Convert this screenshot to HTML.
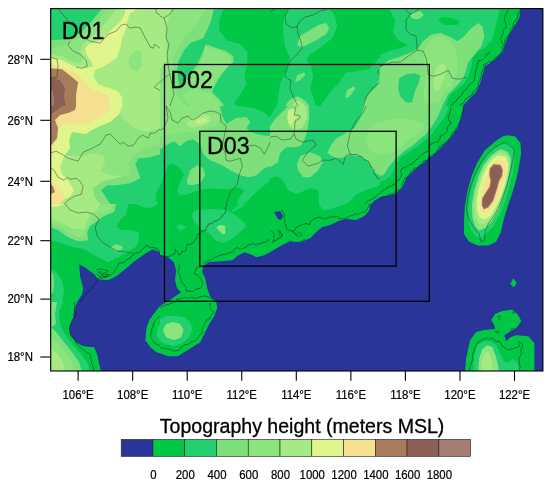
<!DOCTYPE html>
<html><head><meta charset="utf-8"><title>Topography height</title>
<style>
html,body{margin:0;padding:0;background:#fff;}
body{width:550px;height:488px;overflow:hidden;position:relative;font-family:"Liberation Sans",Arial,Helvetica,sans-serif;}
svg{position:absolute;left:0;top:0;display:block}
text{font-family:"Liberation Sans",Arial,Helvetica,sans-serif;fill:#000;stroke:#000;stroke-width:0.3px}
.tk{font-size:11.4px;stroke-width:0.2px}
.dl{font-size:23.25px}
.bl{font-size:11.4px;stroke-width:0.2px}
</style></head><body>
<svg width="550" height="488" viewBox="0 0 550 488">
<defs><clipPath id="mapclip"><rect x="50.5" y="8.5" width="492.5" height="362.5"/></clipPath></defs>
<rect x="0" y="0" width="550" height="488" fill="#fff"/>
<g clip-path="url(#mapclip)">
<rect x="50" y="8" width="494" height="364" fill="#00c846"/>

<clipPath id="c0"><rect x="50" y="8" width="110" height="98"/></clipPath>
<g clip-path="url(#c0)">
<rect x="50" y="8" width="110" height="98" fill="#a5ea82"/>
<g transform="translate(50,8) scale(0.20082)">
<polygon fill="#8ce47e" points="395,245 425,212 455,218 458,285 432,318 402,300 390,270"/>
<polygon fill="#8ce47e" points="0,0 335,0 300,45 262,92 215,140 160,185 150,215 165,250 150,275 110,268 60,240 0,228"/>
<polygon fill="#7de07a" points="0,0 294,0 269,31 237,69 187,125 125,162 62,187 0,206"/>
<polygon fill="#22d070" points="0,0 262,0 231,37 206,69 156,119 106,147 56,158 0,160"/>
<polygon fill="#e0f58c" points="378,0 440,0 395,30 385,70 380,100 360,150 350,200 330,250 270,290 225,310 215,340 240,380 340,415 362,450 360,488 0,488 0,245 60,260 120,290 180,300 215,290 205,265 180,230 175,200 195,180 250,160 290,125 320,95 350,70 372,30 378,0"/>
<polygon fill="#f5e090" points="0,280 80,300 140,330 200,400 290,440 305,488 0,488"/>
<polygon fill="#a57d5a" points="0,300 60,305 105,340 140,370 130,430 130,488 0,488"/>
<polygon fill="#8c5f55" points="0,345 50,360 75,400 70,440 78,488 0,488"/>
<polygon fill="#a57d73" points="0,400 15,420 20,470 15,488 0,488"/>
<polyline fill="none" stroke="#26301a" stroke-width="2.78857" stroke-opacity="0.8" stroke-linejoin="round" points="40,0 70,40 120,95 160,140 200,165 250,175 290,130 330,115 355,85 380,80 395,100 430,95 450,100 475,150 500,195 515,200 520,180 548,200"/>
<polyline fill="none" stroke="#26301a" stroke-width="2.78857" stroke-opacity="0.8" stroke-linejoin="round" points="100,165 90,185 115,215 150,230 180,260 185,290 160,300 130,295"/>
<polyline fill="none" stroke="#26301a" stroke-width="2.78857" stroke-opacity="0.8" stroke-linejoin="round" points="0,245 35,255 40,290 35,345 0,350"/>
<polyline fill="none" stroke="#26301a" stroke-width="2.78857" stroke-opacity="0.8" stroke-linejoin="round" points="525,0 530,25 548,35"/>
<polyline fill="none" stroke="#26301a" stroke-width="2.78857" stroke-opacity="0.8" stroke-linejoin="round" points="548,365 520,395 548,410"/>
</g></g>
<clipPath id="c1"><rect x="160" y="8" width="110" height="98"/></clipPath>
<g clip-path="url(#c1)">
<rect x="160" y="8" width="110" height="98" fill="#8ce47e"/>
<g transform="translate(160,8) scale(0.20082)">
<polygon fill="#a5ea82" points="0,0 60,0 40,60 30,150 35,260 0,300"/>
<polygon fill="#7de07a" points="230,0 190,70 120,150 70,240 60,330 80,430 130,488 548,488 548,0"/>
<polygon fill="#8ce47e" points="225,190 330,225 355,250 350,275 300,330 255,395 200,400 150,370 190,300 215,245"/>
<polygon fill="#8ce47e" points="150,488 110,430 170,400 250,425 290,465 300,488"/>
<polygon fill="#22d070" points="270,0 255,60 230,120 215,150 150,175 120,210 90,270 85,320 100,410 125,355 180,290 205,240 228,180 330,215 365,240 365,270 340,290 300,340 265,400 260,420 300,460 320,488 548,488 548,0"/>
<polygon fill="#00c846" points="318,0 295,60 295,110 330,160 400,180 435,220 435,280 420,330 430,380 400,430 370,470 380,488 548,488 548,0"/>
<polyline fill="none" stroke="#26301a" stroke-width="2.78857" stroke-opacity="0.8" stroke-linejoin="round" points="70,0 50,30 20,50 35,100 30,150 45,180 35,230 40,280 48,330 20,350 0,370"/>
<polyline fill="none" stroke="#26301a" stroke-width="2.78857" stroke-opacity="0.8" stroke-linejoin="round" points="0,40 20,50"/>
<polyline fill="none" stroke="#26301a" stroke-width="2.78857" stroke-opacity="0.8" stroke-linejoin="round" points="48,330 60,380 70,430 50,488"/>
</g></g>
<clipPath id="c2"><rect x="270" y="8" width="110" height="98"/></clipPath>
<g clip-path="url(#c2)">
<rect x="270" y="8" width="110" height="98" fill="#00c846"/>
<g transform="translate(270,8) scale(0.20082)">
<polygon fill="#22d070" points="90,0 70,50 65,110 75,190 100,250 80,310 50,380 35,488 230,488 200,400 215,340 205,290 180,260 200,230 260,190 310,150 335,90 320,30 290,0"/>
<polygon fill="#7de07a" points="135,180 150,140 200,110 240,85 280,75 295,100 280,130 230,160 180,185 150,195"/>
<polygon fill="#7de07a" points="125,370 135,335 170,320 175,335 150,360"/>
<polygon fill="#7de07a" points="75,488 100,455 140,440 180,465 195,488"/>
<polygon fill="#a5ea82" points="110,488 125,465 145,460 165,475 172,488"/>
<polygon fill="#22d070" points="250,488 300,420 349,366 377,322 428,315 493,304 519,279 548,243 548,488"/>
<polygon fill="#7de07a" points="375,440 385,410 415,390 425,400 405,430 385,450"/>
<polygon fill="#7de07a" points="460,488 472,463 493,427 530,391 546,350 544,304 548,296 548,488"/>
<polyline fill="none" stroke="#26301a" stroke-width="2.78857" stroke-opacity="0.8" stroke-linejoin="round" points="95,0 75,40 80,80 110,100 135,90 140,130 155,170 160,200 130,235 100,265 85,300 75,340 90,355 105,360 100,400 115,440 130,470 140,488"/>
<polyline fill="none" stroke="#26301a" stroke-width="2.78857" stroke-opacity="0.8" stroke-linejoin="round" points="135,90 150,65 175,45 215,35 250,15 275,10 290,0"/>
<polyline fill="none" stroke="#26301a" stroke-width="2.78857" stroke-opacity="0.8" stroke-linejoin="round" points="0,20 30,0"/>
<polyline fill="none" stroke="#26301a" stroke-width="2.78857" stroke-opacity="0.8" stroke-linejoin="round" points="548,305 535,320 548,330"/>
<polyline fill="none" stroke="#26301a" stroke-width="2.78857" stroke-opacity="0.8" stroke-linejoin="round" points="548,370 510,400 480,440 465,488"/>
</g></g>
<clipPath id="c3"><rect x="380" y="8" width="110" height="98"/></clipPath>
<g clip-path="url(#c3)">
<rect x="380" y="8" width="110" height="98" fill="#22d070"/>
<g transform="translate(380,8) scale(0.20082)">
<polygon fill="#00c846" points="0,0 45,0 75,60 65,120 90,160 140,185 100,200 40,215 0,235"/>
<polygon fill="#00c846" points="290,65 305,45 360,50 400,70 385,85 320,85"/>
<polygon fill="#7de07a" points="0,300 18,282 40,261 90,246 148,224 190,203 210,170 250,135 300,125 350,145 385,165 420,140 450,105 490,75 510,95 520,140 505,190 470,230 440,270 425,320 415,350 380,390 340,430 310,488 0,488"/>
<polygon fill="#7de07a" points="150,40 165,20 200,15 218,35 195,55 165,55"/>
<polygon fill="#8ce47e" points="225,475 215,420 235,330 215,250 225,190 260,150 300,140 345,160 375,200 385,260 385,320 360,380 320,420 290,470"/>
<polygon fill="#a5ea82" points="270,330 285,290 310,275 330,290 325,330 300,400 280,420 265,380"/>
<polygon fill="#22d070" points="95,350 130,330 170,325 200,335 195,370 175,410 160,470 130,470 100,440 90,400"/>
<polygon fill="#00c846" points="548,165 528,196 491,217 462,246 455,290 441,341 418,376 382,406 346,435 332,478 325,488 548,488"/>
<polygon fill="#293599" points="548,275 523,289 513,326 498,376 477,420 441,456 411,488 548,488"/>
<polyline fill="none" stroke="#26301a" stroke-width="2.78857" stroke-opacity="0.8" stroke-linejoin="round" points="120,0 150,30 130,60 130,110 150,130 180,140 185,210 140,240 100,270 60,270 30,280 0,290"/>
<polyline fill="none" stroke="#26301a" stroke-width="2.78857" stroke-opacity="0.8" stroke-linejoin="round" points="185,210 215,215 230,250 240,330 265,340 300,330 340,310 360,350 395,355 430,345"/>
<polyline fill="none" stroke="#26301a" stroke-width="2.78857" stroke-opacity="0.8" stroke-linejoin="round" points="150,30 175,20 200,0"/>
<polyline fill="none" stroke="#0a0f0a" stroke-width="2.6" stroke-opacity="0.85" stroke-linejoin="round" points="548,262 539.6,269.5 531.2,276.9 520,280 515.6,288.7 518.1,299.7 510.7,307.5 509.3,317.2 505,326 506.2,337.3 498.9,346 500.4,357.3 493.6,366.2 490,376 488.8,387.7 483.6,397.4 475.7,405.6 470,415 460.7,419.7 458.7,431.7 451,438 441.1,442.1 435,450 424.7,454.6 420.4,464.7 414.8,473.5 403.5,477.2 400,488"/>
<polyline fill="none" stroke="#0a0f0a" stroke-width="2.6" stroke-opacity="0.85" stroke-linejoin="round" points="548,215 544.5,226.6 531.2,230.3 528.6,242.6 520,250 511.3,257.3 501.4,261.5 490,262 489.4,272 481.9,280.2 485.6,291.3 480,300 477.2,309.8 474.6,319.7 475.3,330.3 471.5,339.9 470,350 468.6,359.9 463.7,367.4 457.4,374.1 450,380 441.2,386.2 435.5,395.5 428.8,403.8 420,410 414.3,417 410.4,425.3 406.7,433.6 400,440 390.4,445.4 383.6,453.6 379.3,464.3 370,470 359.5,478.4 350,488"/>
</g></g>
<clipPath id="c4"><rect x="490" y="8" width="54" height="98"/></clipPath>
<g clip-path="url(#c4)">
<rect x="490" y="8" width="54" height="98" fill="#293599"/>
<g transform="translate(440,8) scale(0.20082)">
<polygon fill="#00c846" points="0,0 400,0 395,50 370,90 340,140 320,190 310,220 270,260 225,285 210,340 190,390 160,440 120,470 110,488 0,488"/>
<polygon fill="#22d070" points="0,0 300,0 285,60 270,120 255,170 225,210 190,240 170,280 150,330 120,380 80,420 45,450 30,488 0,488"/>
<polyline fill="none" stroke="#0a0f0a" stroke-width="2.6" stroke-opacity="0.85" stroke-linejoin="round" points="400,10 395.8,19.9 388.5,28.6 385.9,39.1 386,50.8 380,60 368.7,67.1 365,80 364.8,91.3 358.3,100.3 351.3,109.1 350,120 347.9,129.4 340.1,135.1 338.8,145.1 330,150 325.1,159.5 320.8,169.2 320,180 316.3,188.8 310.4,196.8 312.8,207.6 306.1,215.4 305,225 297.7,230.5 291.1,236.7 285.3,243.8 276,247.2 268.6,252.6 265,262 257.1,267.4 248.1,271 243.4,281.3 231.9,281.1 225,288 221.1,298.2 215.2,307.9 214.4,318.8 215,330 213,340.8 208.1,350.4 201.4,359.4 203.4,371.8 195,380 190.3,388.5 187.8,398.4 183.3,407 178.8,415.6 167.7,420.3 165,430 159.4,439.8 150.7,445.9 141.7,451.8 130.6,455.2 125,465 121.5,475.4 112.1,480.7 105,488"/>
<polyline fill="none" stroke="#0a0f0a" stroke-width="2.6" stroke-opacity="0.85" stroke-linejoin="round" points="340,10 335.5,19.8 328.4,28.6 325,38.8 320.6,48.6 320,60 325.4,69.3 327.5,79.7 330,90 327,99.2 318,105.4 313,113.7 316,125.8 311.5,134.3 306.7,142.6 300,150 305.9,159.2 306.8,170 310,180"/>
</g></g>
<clipPath id="c5"><rect x="50" y="106" width="110" height="98"/></clipPath>
<g clip-path="url(#c5)">
<rect x="50" y="106" width="110" height="98" fill="#8ce47e"/>
<g transform="translate(50,106) scale(0.20082)">
<polygon fill="#a5ea82" points="340,0 548,0 548,110 480,130 420,110 360,60"/>
<polygon fill="#a5ea82" points="150,280 190,240 240,235 270,260 265,300 225,325 180,320"/>
<polygon fill="#a5ea82" points="50,244 150,250 265,244 275,284 250,324 300,344 400,354 420,400 300,420 255,440 270,470 300,488 0,488 0,244"/>
<polygon fill="#7de07a" points="548,195 480,210 420,240 390,290 400,340 330,360 260,375 215,410 220,450 250,488 548,488"/>
<polygon fill="#22d070" points="548,240 500,255 440,262 425,290 440,330 450,360 400,385 330,395 285,395 255,420 275,450 300,488 548,488"/>
<polygon fill="#00c846" points="548,400 530,430 525,470 540,488 548,488"/>
<polygon fill="#e0f58c" points="0,0 360,0 345,40 300,80 250,100 200,125 180,140 110,130 95,170 100,210 70,250 50,300 60,340 90,370 120,420 100,450 60,470 40,488 0,488"/>
<polygon fill="#f5e090" points="300,0 290,30 250,55 190,85 130,95 70,90 35,120 40,150 20,200 10,240 0,250 0,0"/>
<polygon fill="#f5e090" points="0,380 30,390 60,430 75,460 50,488 0,488"/>
<polygon fill="#a57d5a" points="0,0 130,0 125,20 90,35 50,45 25,70 40,110 35,160 10,190 0,200"/>
<polygon fill="#a57d5a" points="0,390 15,400 25,430 0,440"/>
<polygon fill="#8c5f55" points="0,0 60,0 30,25 0,40"/>
<polyline fill="none" stroke="#26301a" stroke-width="2.78857" stroke-opacity="0.8" stroke-linejoin="round" points="0,235 30,225 60,240 90,260 140,275 165,230 200,215 250,190 280,145 300,140 330,170 350,190 365,180 390,200 415,195 440,160 460,145 490,160 500,135 520,135 548,115"/>
<polyline fill="none" stroke="#26301a" stroke-width="2.78857" stroke-opacity="0.8" stroke-linejoin="round" points="0,305 20,320 40,355 70,370 85,355 100,365 130,360 150,375 165,400 155,440 120,450 90,470 70,488"/>
</g></g>
<clipPath id="c6"><rect x="160" y="106" width="110" height="98"/></clipPath>
<g clip-path="url(#c6)">
<rect x="160" y="106" width="110" height="98" fill="#22d070"/>
<g transform="translate(160,106) scale(0.20082)">
<polygon fill="#00c846" points="0,400 25,330 40,295 65,285 100,310 120,340 100,380 85,420 100,445 140,440 190,420 260,410 330,415 390,405 420,420 400,450 380,488 0,488"/>
<polygon fill="#00c846" points="400,0 474,11 524,36 544,56 548,52 548,0"/>
<polygon fill="#00c846" points="410,488 434,474 494,414 534,384 548,374 548,488"/>
<polygon fill="#7de07a" points="0,0 300,0 310,50 330,90 380,60 430,55 450,80 430,110 450,130 500,145 548,150 548,300 520,310 480,345 440,355 400,345 350,320 310,295 250,270 215,240 200,190 165,165 130,175 100,200 70,175 30,195 0,215"/>
<polygon fill="#8ce47e" points="0,0 290,0 300,60 280,100 230,110 180,130 120,130 60,140 0,150"/>
<polygon fill="#a5ea82" points="130,90 160,60 210,40 250,50 250,80 210,100 160,110"/>
<polygon fill="#c3f088" points="170,82 200,62 235,60 235,78 200,92"/>
<polygon fill="#7de07a" points="135,370 150,320 185,295 215,310 225,345 200,385 160,395 135,390"/>
<polyline fill="none" stroke="#26301a" stroke-width="2.78857" stroke-opacity="0.8" stroke-linejoin="round" points="30,0 50,30 60,70 90,85 110,60 140,50 160,70 190,55 215,35 250,25 280,30 300,40 305,80 330,100 320,150 310,200 325,235 330,270 350,275 400,260 410,300 395,340 385,390 350,430 335,470 330,488"/>
<polyline fill="none" stroke="#26301a" stroke-width="2.78857" stroke-opacity="0.8" stroke-linejoin="round" points="430,200 470,195 500,210 520,240 540,200 548,180"/>
<polyline fill="none" stroke="#26301a" stroke-width="2.78857" stroke-opacity="0.8" stroke-linejoin="round" points="0,120 20,110 40,60 30,0"/>
</g></g>
<clipPath id="c7"><rect x="270" y="106" width="110" height="98"/></clipPath>
<g clip-path="url(#c7)">
<rect x="270" y="106" width="110" height="98" fill="#22d070"/>
<g transform="translate(270,106) scale(0.20082)">
<polygon fill="#00c846" points="0,0 33,0 16,26 0,58"/>
<polygon fill="#00c846" points="0,360 40,350 70,380 90,420 130,440 200,410 240,420 245,488 0,488"/>
<polygon fill="#00c846" points="548,392 534,399 474,419 424,444 394,479 375,488 548,488"/>
<polygon fill="#293599" points="548,455 520,470 505,488 548,488"/>
<polygon fill="#7de07a" points="0,100 30,60 60,30 90,0 195,0 195,60 185,130 170,170 150,200 120,205 80,205 50,235 40,280 0,305"/>
<polygon fill="#7de07a" points="135,290 150,250 200,230 250,250 262,280 240,320 200,355 165,355 140,320"/>
<polygon fill="#7de07a" points="548,0 470,0 450,60 420,110 370,140 330,160 300,200 285,235 330,260 375,255 400,245 450,250 490,280 520,330 548,345"/>
<polygon fill="#a5ea82" points="85,60 110,20 130,0 180,0 185,60 160,110 120,120 95,100"/>
<polygon fill="#c3f088" points="88,25 105,12 125,20 125,70 105,95 88,80"/>
<polygon fill="#8ce47e" points="548,90 510,100 485,140 490,190 520,230 548,235"/>
<polyline fill="none" stroke="#26301a" stroke-width="2.78857" stroke-opacity="0.8" stroke-linejoin="round" points="130,0 120,45 145,45 150,60 125,75 120,140 130,165 160,180 215,170 230,195 205,215 185,235 160,270 190,300 240,285 260,270 300,270 330,260 365,290 375,250 400,240 385,200 400,130 430,70 460,40 480,0"/>
<polyline fill="none" stroke="#26301a" stroke-width="2.78857" stroke-opacity="0.8" stroke-linejoin="round" points="0,155 30,150 60,170 100,165 120,140"/>
<polyline fill="none" stroke="#0a0f0a" stroke-width="2.6" stroke-opacity="0.85" stroke-linejoin="round" points="400,240 409.8,242.9 420.5,241.7 431,241.1 440.2,247.2 450,250 458.7,253.9 465.6,260.6 471.6,268.8 481,271.6 490,275 494.9,283.8 499,293.1 503.5,302.1 510,310 519,318 516.4,331.8 522.5,341.3 530,350 536.6,360.4 548,365"/>
<polyline fill="none" stroke="#0a0f0a" stroke-width="2.6" stroke-opacity="0.85" stroke-linejoin="round" points="548,435 536.9,439.2 530,449.2 520,455 510.5,460.9 501.8,468.5 490,470 481.5,478.1 475,488"/>
</g></g>
<clipPath id="c8"><rect x="380" y="106" width="110" height="98"/></clipPath>
<g clip-path="url(#c8)">
<rect x="380" y="106" width="110" height="98" fill="#293599"/>
<g transform="translate(380,106) scale(0.20082)">
<polygon fill="#00c846" points="0,0 415,0 405,60 385,110 350,160 310,200 270,240 220,280 170,320 130,360 110,410 70,440 0,455"/>
<polygon fill="#22d070" points="0,0 345,0 320,60 280,110 250,150 200,190 150,225 110,250 80,290 60,340 30,365 0,380"/>
<polygon fill="#7de07a" points="0,0 310,0 290,50 260,100 230,140 170,190 120,225 80,260 45,300 20,340 0,350"/>
<polyline fill="none" stroke="#0a0f0a" stroke-width="2.6" stroke-opacity="0.85" stroke-linejoin="round" points="415,5 416.7,15.3 414.2,24.5 410.3,33.3 408.3,42.6 404,51.3 400,60 400.2,71.7 396.6,81.9 391.2,91.3 387.7,101.5 380,110 375.3,119.1 372.2,129.4 359.4,132.9 355.7,142.7 353.7,153.7 345,160 340.1,168.4 332.7,174.4 326,181 321,189.3 309.2,190.9 305,200 294.8,203.2 291.9,213.6 285.1,220.1 281.3,229.6 274.5,236.1 265,240 258.8,246.9 252.2,253.3 241.5,254.6 238.5,265.5 232.3,272.3 219.3,270.8 215,280 207.7,285.5 202.9,294.2 193.3,296.8 189.4,306.6 179.1,308.4 169.2,310.5 165,320 155.8,324.1 150.3,331.9 146.7,341.7 139.3,347.6 134,355.7 125,360 118.5,369 116.7,379.9 110.4,389 110.6,400.6 105,410 98.7,418.2 87.1,419.5 78.1,424.1 70.9,431.2 65,440 55,439.2 45.7,441.2 36.6,444.1 28.5,451.2 18.5,450.5 9.6,454.3 0,455"/>
<polyline fill="none" stroke="#0a0f0a" stroke-width="2.6" stroke-opacity="0.85" stroke-linejoin="round" points="350,5 353,15 351.3,24.2 347.2,32.9 345.7,42.1 339.8,50.5 340,60 343.8,72.7 355,80 351.3,88.6 342.8,94.7 338.1,102.8 334.3,111.3 335.4,122.3 330,130 324.1,137.3 316.5,142.3 309.2,147.5 300,150 299.5,160.9 292.2,169.6 290,180 279,178.6 269.2,181.7 260,187.7 250,190 246,198.3 242.1,206.7 246.5,217.4 240,225 231.1,228.6 221.8,231.5 214.5,237.6 206.7,242.9 200,250 193.5,256.8 188.9,265.6 178,268 174.5,277.9 164.5,281.2 160,290 147.9,290.8 140,300 130.3,304.3 120.3,307.6 110,310 103.6,319.1 103.8,329.6 107.2,340.6 105.7,350.7 100,360 95.8,369.1 83.8,370.5 77.8,377.8 75.8,389.2 64.4,391 60,400 48.5,398.8 39.5,405.2 30,410 23.3,416.2 14.7,419.6 9.5,428.1 0,430"/>
</g></g>
<clipPath id="c9"><rect x="490" y="106" width="54" height="266"/></clipPath>
<g clip-path="url(#c9)">
<rect x="490" y="106" width="54" height="266" fill="#293599"/>
<g transform="translate(490,106) scale(0.20082)">
</g></g>
<clipPath id="c10"><rect x="270" y="302" width="220" height="70"/></clipPath>
<g clip-path="url(#c10)">
<rect x="270" y="302" width="220" height="70" fill="#293599"/>
<g transform="translate(270,302) scale(0.20082)">
</g></g>
<clipPath id="c11"><rect x="380" y="204" width="110" height="98"/></clipPath>
<g clip-path="url(#c11)">
<rect x="380" y="204" width="110" height="98" fill="#293599"/>
<g transform="translate(380,204) scale(0.20082)">
</g></g>
<clipPath id="c12"><rect x="50" y="204" width="110" height="98"/></clipPath>
<g clip-path="url(#c12)">
<rect x="50" y="204" width="110" height="98" fill="#00c846"/>
<g transform="translate(50,204) scale(0.20082)">
<polygon fill="#293599" points="145,300 180,320 220,350 240,375 290,380 330,360 380,320 420,285 470,250 510,225 548,240 548,488 135,488 160,450 165,420 150,360"/>
<polygon fill="#22d070" points="0,0 390,0 380,50 350,80 330,110 350,130 400,130 440,140 445,175 430,210 380,245 330,270 290,290 230,260 170,225 100,210 40,190 0,180"/>
<polygon fill="#22d070" points="430,0 460,15 500,20 540,0"/>
<polygon fill="#22d070" points="0,320 30,340 60,380 70,430 60,488 0,488"/>
<polygon fill="#7de07a" points="0,0 330,0 320,40 270,60 230,90 200,110 185,140 190,180 140,185 90,165 40,130 0,115"/>
<polygon fill="#7de07a" points="300,215 330,200 360,210 360,225 330,235"/>
<polygon fill="#8ce47e" points="0,0 320,0 300,30 250,50 215,80 190,110 180,160 140,165 90,140 40,110 0,95"/>
<polygon fill="#a5ea82" points="0,0 250,0 230,35 195,60 180,100 170,125 120,125 60,95 0,70"/>
<polygon fill="#e0f58c" points="0,0 75,0 40,12 0,15"/>
<polygon fill="#7de07a" points="0,330 15,350 20,400 15,440 0,450"/>
<polyline fill="none" stroke="#26301a" stroke-width="2.78857" stroke-opacity="0.8" stroke-linejoin="round" points="75,0 100,30 140,45 180,40 215,50 245,75 225,115 235,160 260,190 300,215 340,235 390,240 420,250"/>
<polyline fill="none" stroke="#0a0f0a" stroke-width="2.6" stroke-opacity="0.85" stroke-linejoin="round" points="420,250 427.8,240.7 442.1,244.2 450,235 458.6,228.6 465.2,220.2 475.6,215.6 480,205 487.9,209.4 495,215 507.5,218.7 520,215 524.8,223.7 535.9,225.3 542.7,231.9 548,240"/>
<polyline fill="none" stroke="#0a0f0a" stroke-width="2.6" stroke-opacity="0.85" stroke-linejoin="round" points="230,330 239.7,326.3 249.6,324.1 260,325 269.7,329.2 280.8,329.4 290,335 280.4,340.7 270,345 259.4,347 250.7,337.6 240,340 250.9,346.3 260,355 271.6,352.9 283.5,352.5 295,350 284.6,354.6 280,365 268.2,364.1 257.3,357.5 245,360 237.5,352.5 230,345"/>
<polyline fill="none" stroke="#0a0f0a" stroke-width="2.6" stroke-opacity="0.85" stroke-linejoin="round" points="420,250 411.8,255.7 403.9,261.8 398.9,271.9 388.4,274.5 380,280 371.4,287.8 362.2,294.4 348.7,292.3 340,300 337.9,311.5 330.2,320.1 323,329 320,340 312.2,344.5 306,351.4 297.4,354.8 290,360 279.9,361.5 269.4,361.2 260.8,369.9 249.9,367.4 240,370 237.2,381.1 232,391 225,400 216.7,405.8 212.4,415 205.8,422.1 200,430 190.7,435.7 182.1,442.1 177.9,452.9 170,460 162.4,468.7 156.6,478.6 150,488"/>
</g></g>
<clipPath id="c13"><rect x="160" y="204" width="110" height="98"/></clipPath>
<g clip-path="url(#c13)">
<rect x="160" y="204" width="110" height="98" fill="#00c846"/>
<g transform="translate(160,204) scale(0.20082)">
<polygon fill="#293599" points="0,255 40,265 70,290 80,330 75,380 85,420 105,440 60,470 35,488 0,488"/>
<polygon fill="#293599" points="548,240 520,255 480,265 450,250 420,240 390,255 360,280 300,285 240,290 215,310 210,340 225,370 235,420 250,460 280,488 548,488"/>
<polygon fill="#22d070" points="165,40 190,30 260,25 330,30 375,55 415,90 430,110 400,140 360,170 320,195 280,185 250,150 200,120 170,90 160,60"/>
<polygon fill="#22d070" points="80,115 105,100 130,115 105,135"/>
<polygon fill="#22d070" points="350,40 380,10 400,0 430,0 400,20 370,35"/>
<polygon fill="#8ce47e" points="280,115 300,105 325,110 325,150 310,150 290,130"/>
<polyline fill="none" stroke="#0a0f0a" stroke-width="2.6" stroke-opacity="0.85" stroke-linejoin="round" points="0,255 10,256.9 19.7,260.4 30.1,259.8 40,262 50.1,258.3 59.9,253.8 70,250 76.8,238.4 75,225 81.1,233.9 90,240 95,255 105.5,247.3 110,235 121.1,236.8 130,230 129.3,219.6 133.9,210.1 135,200 148.4,201.8 160,195 170.7,189.1 174.1,175.8 185,170 183.8,159.1 190,150 199.7,144.5 208.1,136.2 218.8,132.7 230,130 229.3,118.7 238.3,110.5 240,100 251,98.9 261.4,96.2 268.8,85.5 280,85 291.3,79.2 300,70 307.8,64.5 310.8,54.1 320,50 325.8,40.8 328.6,30.9 323.3,19.5 332.4,10.9 330,0"/>
<polyline fill="none" stroke="#0a0f0a" stroke-width="2.6" stroke-opacity="0.85" stroke-linejoin="round" points="215,300 222.7,292.5 231.6,286.6 240,280 251.7,280.8 261.2,275.6 268.8,265.6 280,265 289.7,259.4 300,255 310,253.5 319.7,250.1 330,250 339,243.8 349.4,241.6 360,240 369.3,231.3 375,220 388.4,217.8 400,225 410.2,222.2 419.8,217.8 430,215 434.8,206 444.1,203.6 453.2,201 460,195 469.9,200.1 480,205 488.1,196.1 502.2,199.3 510,190 520.2,190.3 530.2,189.6 537.5,178.7 548,180"/>
<polyline fill="none" stroke="#0a0f0a" stroke-width="2.6" stroke-opacity="0.85" stroke-linejoin="round" points="95,300 95.6,310.4 96.2,320.8 90,330 89.8,340.7 97.2,349.4 101.1,359.1 100,370 105.6,377.1 106.6,387.3 112.3,394.3 120,400 125.6,409.2 130,418.9 130,430 139.5,435.4 149.9,433.2 159.8,435.7 170,435 178.2,426.3 188,421 200,420 206.7,410.8 209.3,399.7 215,390 205.5,385.2 205.9,372.2 197.3,366.6 190,360 185.5,351.2 173.7,349.6 170,340 178.2,331.6 180,320 191.7,313.3 205,315"/>
<polyline fill="none" stroke="#0a0f0a" stroke-width="2.6" stroke-opacity="0.85" stroke-linejoin="round" points="80,475 90.7,476.6 99.9,470.5 109.7,467.4 120.1,467.5 130,465 139.6,470.2 150.2,464.7 160.4,464.3 170,469.3 180,470 189.5,465.4 199.2,462.2 209.3,460.7 219.1,457.6 230,460 241.3,462.3 250.8,468.3 260.9,473.3 270,480"/>
</g></g>
<clipPath id="c14"><rect x="270" y="204" width="110" height="98"/></clipPath>
<g clip-path="url(#c14)">
<rect x="270" y="204" width="110" height="98" fill="#293599"/>
<g transform="translate(270,204) scale(0.20082)">
<polygon fill="#00c846" points="0,0 500,0 495,30 470,60 430,80 380,75 340,85 300,105 260,115 230,140 200,170 150,190 100,185 50,210 0,240"/>
<polygon fill="#22d070" points="240,0 262,25 274,31 334,16 375,0"/>
<polygon fill="#293599" points="20,40 50,35 65,60 55,80 40,75"/>
<polyline fill="none" stroke="#0a0f0a" stroke-width="2.6" stroke-opacity="0.85" stroke-linejoin="round" points="500,0 492.8,6.1 491.7,16.2 485,22.5 480,30 471.4,37.9 460.7,41.4 450,45 440.8,51.4 430.4,50.8 420,50 412.2,59.3 399,57.9 389.8,64.5 380,70 368.8,74.7 356.7,73.6 345,75 340.6,64.4 330,60 320.6,65.6 309.5,60.2 300,65 290.2,69 280,71.7 270,75 261.1,68.5 249.7,69.3 240,65 230,69.9 219.2,73.3 210,80 200.7,87.8 200,100 190,101.6 180,96.7 170,100 159.3,101.8 149.5,106.2 140.3,112.1 130,115 126.4,125.7 120,135 108.4,135.4 98.7,131 88.5,127.8 80,120 81.1,109.7 75.1,100.3 72.9,90.4 75,80 68.5,71.9 73.3,60.8 71.1,51.5 66.6,42.9 60.4,34.7 60,25"/>
<polyline fill="none" stroke="#0a0f0a" stroke-width="2.6" stroke-opacity="0.85" stroke-linejoin="round" points="0,130 8.5,134.8 14.8,141.9 20,150 19.2,160.1 20.9,170.4 16.8,180.1 15,190 21.9,181.5 34.6,180.3 40,170 52.1,169.2 60,160 57.1,149.9 50.9,140.8 50,130"/>
<polyline fill="none" stroke="#26301a" stroke-width="2.78857" stroke-opacity="0.8" stroke-linejoin="round" points="40,130 50,160 62,150 40,130"/>
<polyline fill="none" stroke="#26301a" stroke-width="2.78857" stroke-opacity="0.8" stroke-linejoin="round" points="110,135 130,150 150,140 160,155 135,160 110,135"/>
<polyline fill="none" stroke="#26301a" stroke-width="2.78857" stroke-opacity="0.8" stroke-linejoin="round" points="135,195 175,175"/>
<polyline fill="none" stroke="#26301a" stroke-width="2.78857" stroke-opacity="0.8" stroke-linejoin="round" points="95,185 100,178"/>
</g></g>
<clipPath id="c15"><rect x="50" y="302" width="110" height="70"/></clipPath>
<g clip-path="url(#c15)">
<rect x="50" y="302" width="110" height="70" fill="#293599"/>
<g transform="translate(50,302) scale(0.20082)">
<polygon fill="#00c846" points="0,0 135,0 120,40 115,80 95,130 100,160 130,200 165,220 220,225 235,260 245,310 255,350 0,350"/>
<polygon fill="#22d070" points="0,0 65,0 45,50 50,110 75,160 115,215 150,255 185,300 200,350 0,350"/>
<polygon fill="#7de07a" points="0,120 30,150 70,200 110,250 145,300 160,350 0,350"/>
<polygon fill="#8ce47e" points="0,175 35,205 70,245 105,290 125,350 0,350"/>
<polygon fill="#a5ea82" points="0,230 30,250 60,290 80,350 0,350"/>
<polygon fill="#7de07a" points="0,0 35,0 25,60 30,110 0,130"/>
<polygon fill="#00c846" points="548,20 520,55 495,90 480,130 475,190 500,225 530,250 548,255"/>
<polygon fill="#22d070" points="548,110 535,130 530,170 548,190"/>
<polyline fill="none" stroke="#0a0f0a" stroke-width="2.6" stroke-opacity="0.85" stroke-linejoin="round" points="125,0 119.1,9.4 124.4,20.2 122.7,30.2 120,40 128.1,48.4 127.8,59.6 130,70 123.5,76.8 116.6,83.3 110,90 109,101 102.5,110 103.4,121.7 95,130 99,141.3 102.4,152.8 100,165 106.5,171.5 115,176.4 120.9,183.4 124.4,192.3 130.7,199 133.6,208.4 140,215 147.3,221.5 153.4,229.4 161.5,235 170,240 176.3,246.8 182.9,253.2 193.1,254.1 200,260 203.7,269.7 199.2,281 209.4,289.3 205.8,300.4 210,310 211.1,320.3 219.4,328.9 214.2,340.8 220,350"/>
<polyline fill="none" stroke="#0a0f0a" stroke-width="2.6" stroke-opacity="0.85" stroke-linejoin="round" points="548,70 538.1,74.8 533.1,84.1 525.3,90.9 520,100 513.3,108.9 515.9,121.3 508.5,129.9 505,140 505,149 501.7,158 502,167 501.7,176 505,185 512.7,193.9 518.9,204.4 530,210 538.5,214.3 548,215"/>
</g></g>
<clipPath id="c16"><rect x="160" y="302" width="110" height="70"/></clipPath>
<g clip-path="url(#c16)">
<rect x="160" y="302" width="110" height="70" fill="#293599"/>
<g transform="translate(160,302) scale(0.20082)">
<polygon fill="#00c846" points="0,20 35,0 280,0 285,30 270,70 245,110 220,160 200,200 160,225 120,250 90,270 40,270 0,255"/>
<polygon fill="#22d070" points="0,85 30,70 75,68 120,75 150,100 160,135 145,175 110,205 65,220 20,205 0,195"/>
<polygon fill="#8ce47e" points="15,140 30,110 65,100 100,110 118,140 105,175 70,190 30,175"/>
<polyline fill="none" stroke="#0a0f0a" stroke-width="2.6" stroke-opacity="0.85" stroke-linejoin="round" points="0,25 10.5,24.4 19.3,17.4 28.9,13 40,15 48.7,7.8 59.5,6.2 68.6,0.1 80,0"/>
<polyline fill="none" stroke="#0a0f0a" stroke-width="2.6" stroke-opacity="0.85" stroke-linejoin="round" points="250,5 248.3,17.1 252.8,28.4 255,40 261.8,46.1 270,50 263,56.2 256.6,62.8 252.1,71.1 249.8,81.2 240,85 231.3,92 225.5,101.1 221.2,111.2 215,120 212.2,129.9 208.5,139.6 211.7,151.1 205,160 195,166.7 190.1,178.4 180,185 174.3,193.6 165.2,197 154.8,198.1 149.6,207.5 140,210 130.3,211.5 120.6,213.1 113.8,221.3 105,225 101,233.2 95,240 82.5,242.7 70,245 60.6,239.9 50.8,235.8 40,235 30.3,231.4 20.3,228.6 9,231.6 0,225"/>
</g></g>
<clipPath id="c17"><rect x="455" y="120" width="89" height="140"/></clipPath>
<g clip-path="url(#c17)">
<g transform="translate(455,125) scale(0.25641)">
<polygon fill="#00c846" points="205,40 235,45 255,70 258,110 250,160 240,210 225,260 205,320 190,370 178,420 160,455 130,470 90,470 55,455 35,425 35,380 38,320 48,260 65,200 85,150 115,100 155,65 185,45"/>
<polygon fill="#22d070" points="195,70 215,75 230,100 232,140 225,190 212,240 195,300 175,350 150,395 125,420 105,440 85,435 65,415 52,380 50,330 58,270 75,210 95,160 125,115 160,85"/>
<polygon fill="#8ce47e" points="180,95 205,105 218,130 215,170 205,220 190,270 170,330 145,375 120,400 95,412 78,395 68,360 66,310 75,255 92,200 112,155 140,120 165,100"/>
<polygon fill="#a5ea82" points="176,106 201,115 213,140 210,178 200,225 185,272 165,325 141,365 117,384 95,386 81,362 76,335 76,300 85,248 101,198 121,155 145,125"/>
<polygon fill="#e0f58c" points="170,118 198,125 208,150 205,185 195,230 180,275 160,320 138,355 115,368 95,360 85,330 85,290 95,240 110,195 130,155 150,130"/>
<polygon fill="#f5e090" points="165,135 190,140 198,160 195,195 185,235 170,275 152,310 132,338 112,345 100,330 98,295 108,250 122,205 138,170 152,145"/>
<polygon fill="#a57d5a" points="150,152 178,155 187,175 184,200 172,220 166,245 158,268 150,295 130,322 112,330 104,312 106,285 120,262 135,240 138,215 133,195 135,170"/>
<polygon fill="#8c5f55" points="152,157 176,160 183,178 180,198 168,218 162,245 154,268 146,292 128,317 113,324 107,309 109,287 123,264 138,242 142,215 137,195 138,173"/>
<polyline fill="none" stroke="#26301a" stroke-width="2.184" stroke-opacity="0.8" stroke-linejoin="round" points="190,68 215,80 232,100 225,140 215,185 205,225 190,270 175,310 155,350 130,385 118,415 115,450 100,455 95,425 80,410 55,370 45,330 50,280 62,235 80,190 100,150 125,115 155,88 190,68"/>
</g></g>
<clipPath id="c18"><rect x="455" y="260" width="89" height="80"/></clipPath>
<g clip-path="url(#c18)">
<g transform="translate(440,106) scale(0.20082)">
<polygon fill="#00c846" points="365,858 382,883 368,903 350,888"/>
</g></g>
<clipPath id="c19"><rect x="440" y="302" width="104" height="70"/></clipPath>
<g clip-path="url(#c19)">
<g transform="translate(440,302) scale(0.20082)">
<polygon fill="#00c846" points="255,90 275,60 310,45 360,38 385,60 405,95 380,130 345,150 320,165 330,195 350,175 380,165 440,170 470,205 470,350 125,350 130,280 150,190 180,150 220,140 275,135 270,115"/>
<polygon fill="#22d070" points="165,350 170,270 185,215 215,195 255,195 280,215 300,260 320,300 345,300 365,280 385,300 400,350"/>
<polygon fill="#8ce47e" points="190,350 195,280 210,235 235,215 262,225 278,270 290,320 295,350"/>
<polygon fill="#a5ea82" points="205,350 208,290 225,250 245,250 258,290 265,350"/>
<polyline fill="none" stroke="#26301a" stroke-width="2.78857" stroke-opacity="0.8" stroke-linejoin="round" points="288,72 300,68 305,82 295,90 288,72"/>
<polyline fill="none" stroke="#26301a" stroke-width="2.78857" stroke-opacity="0.8" stroke-linejoin="round" points="360,48 370,50 368,60 360,48"/>
<polyline fill="none" stroke="#26301a" stroke-width="2.78857" stroke-opacity="0.8" stroke-linejoin="round" points="352,135 368,132 365,148 352,135"/>
<polyline fill="none" stroke="#26301a" stroke-width="2.78857" stroke-opacity="0.8" stroke-linejoin="round" points="272,148 295,146 290,156 272,148"/>
<polyline fill="none" stroke="#0a0f0a" stroke-width="2.6" stroke-opacity="0.85" stroke-linejoin="round" points="150,350 146.5,340 147.5,330 150,320 156,310.9 155.7,299.3 161.9,290.2 165,280 161.1,269.5 162.6,259.6 165.7,249.8 170.7,240.2 170,230 176.6,222.7 181.5,214.2 185,205 191.3,198.3 200.1,195.1 207.3,189.7 215,185 225,183.4 234.5,178.7 245.5,185.2 255,180 264.9,181 270.6,191.9 279.5,195.3 290,195 300.9,199.1 305.3,209.7 310.2,219.8 320,225 330,235 340,239.7 350,234.5 360,235 369.3,229.5 379.1,225.6 390,225 396.1,215.7 390.5,204.5 395,195 401.9,203.1 410,210 412.3,220.4 407.3,230 401.8,239.4 405,250 403.4,263.9 395,275 392.4,284.6 396.2,293.8 393,303.4 395.5,312.6 400.8,321.7 394.8,331.5 399.5,340.6 400,350"/>
</g></g>
<clipPath id="c20"><rect x="330" y="80" width="110" height="98"/></clipPath>
<g clip-path="url(#c20)">
<g transform="translate(330,80) scale(0.20082)">
<polygon fill="#8ce47e" points="185,290 200,230 250,210 330,190 400,195 460,215 470,240 440,270 400,290 360,330 320,360 260,375 210,360 185,330"/>
</g></g>
</g>
<rect x="50.7" y="8.6" width="492.2" height="362.4" fill="none" stroke="#000" stroke-width="1.1"/>
<rect x="164.5" y="64.5" width="264.8" height="236.8" fill="none" stroke="#000" stroke-width="1.3"/>
<rect x="199.8" y="131.3" width="196.3" height="134.8" fill="none" stroke="#000" stroke-width="1.3"/>
<text class="dl" transform="translate(61.8,38.6) scale(1,1.05)">D01</text>
<text class="dl" transform="translate(170.2,88.3) scale(1,1.05)">D02</text>
<text class="dl" transform="translate(207,154.1) scale(1,1.05)">D03</text>
<line x1="40.3" x2="50.5" y1="59.3" y2="59.3" stroke="#000" stroke-width="1.1"/>
<text class="tk" transform="translate(32.9,63.55) scale(1,1.04)" text-anchor="end">28°N</text>
<line x1="40.3" x2="50.5" y1="120.3" y2="120.3" stroke="#000" stroke-width="1.1"/>
<text class="tk" transform="translate(32.9,124.55) scale(1,1.04)" text-anchor="end">26°N</text>
<line x1="40.3" x2="50.5" y1="181.3" y2="181.3" stroke="#000" stroke-width="1.1"/>
<text class="tk" transform="translate(32.9,185.55) scale(1,1.04)" text-anchor="end">24°N</text>
<line x1="40.3" x2="50.5" y1="240.7" y2="240.7" stroke="#000" stroke-width="1.1"/>
<text class="tk" transform="translate(32.9,244.95) scale(1,1.04)" text-anchor="end">22°N</text>
<line x1="40.3" x2="50.5" y1="299.1" y2="299.1" stroke="#000" stroke-width="1.1"/>
<text class="tk" transform="translate(32.9,303.35) scale(1,1.04)" text-anchor="end">20°N</text>
<line x1="40.3" x2="50.5" y1="357" y2="357" stroke="#000" stroke-width="1.1"/>
<text class="tk" transform="translate(32.9,361.25) scale(1,1.04)" text-anchor="end">18°N</text>
<line y1="371" y2="380.8" x1="78.1" x2="78.1" stroke="#000" stroke-width="1.1"/>
<text class="tk" transform="translate(78.1,399.1) scale(1,1.04)" text-anchor="middle">106°E</text>
<line y1="371" y2="380.8" x1="132.65" x2="132.65" stroke="#000" stroke-width="1.1"/>
<text class="tk" transform="translate(132.65,399.1) scale(1,1.04)" text-anchor="middle">108°E</text>
<line y1="371" y2="380.8" x1="187.2" x2="187.2" stroke="#000" stroke-width="1.1"/>
<text class="tk" transform="translate(187.2,399.1) scale(1,1.04)" text-anchor="middle">110°E</text>
<line y1="371" y2="380.8" x1="241.75" x2="241.75" stroke="#000" stroke-width="1.1"/>
<text class="tk" transform="translate(241.75,399.1) scale(1,1.04)" text-anchor="middle">112°E</text>
<line y1="371" y2="380.8" x1="296.3" x2="296.3" stroke="#000" stroke-width="1.1"/>
<text class="tk" transform="translate(296.3,399.1) scale(1,1.04)" text-anchor="middle">114°E</text>
<line y1="371" y2="380.8" x1="350.85" x2="350.85" stroke="#000" stroke-width="1.1"/>
<text class="tk" transform="translate(350.85,399.1) scale(1,1.04)" text-anchor="middle">116°E</text>
<line y1="371" y2="380.8" x1="405.4" x2="405.4" stroke="#000" stroke-width="1.1"/>
<text class="tk" transform="translate(405.4,399.1) scale(1,1.04)" text-anchor="middle">118°E</text>
<line y1="371" y2="380.8" x1="459.95" x2="459.95" stroke="#000" stroke-width="1.1"/>
<text class="tk" transform="translate(459.95,399.1) scale(1,1.04)" text-anchor="middle">120°E</text>
<line y1="371" y2="380.8" x1="514.5" x2="514.5" stroke="#000" stroke-width="1.1"/>
<text class="tk" transform="translate(514.5,399.1) scale(1,1.04)" text-anchor="middle">122°E</text>
<text x="159.8" y="432.6" font-size="19.3px" textLength="284.6" lengthAdjust="spacingAndGlyphs">Topography height (meters MSL)</text>
<rect x="121.2" y="439.4" width="31.7636" height="17" fill="#293599" stroke="#222" stroke-width="0.6"/>
<rect x="152.964" y="439.4" width="31.7636" height="17" fill="#00c846" stroke="#222" stroke-width="0.6"/>
<rect x="184.727" y="439.4" width="31.7636" height="17" fill="#22d070" stroke="#222" stroke-width="0.6"/>
<rect x="216.491" y="439.4" width="31.7636" height="17" fill="#7de07a" stroke="#222" stroke-width="0.6"/>
<rect x="248.255" y="439.4" width="31.7636" height="17" fill="#8ce47e" stroke="#222" stroke-width="0.6"/>
<rect x="280.018" y="439.4" width="31.7636" height="17" fill="#a5ea82" stroke="#222" stroke-width="0.6"/>
<rect x="311.782" y="439.4" width="31.7636" height="17" fill="#e0f58c" stroke="#222" stroke-width="0.6"/>
<rect x="343.545" y="439.4" width="31.7636" height="17" fill="#f5e090" stroke="#222" stroke-width="0.6"/>
<rect x="375.309" y="439.4" width="31.7636" height="17" fill="#a57d5a" stroke="#222" stroke-width="0.6"/>
<rect x="407.073" y="439.4" width="31.7636" height="17" fill="#8c5f55" stroke="#222" stroke-width="0.6"/>
<rect x="438.836" y="439.4" width="31.7636" height="17" fill="#a57d73" stroke="#222" stroke-width="0.6"/>
<text class="bl" transform="translate(153.464,478.8) scale(1,1.04)" text-anchor="middle">0</text>
<text class="bl" transform="translate(185.227,478.8) scale(1,1.04)" text-anchor="middle">200</text>
<text class="bl" transform="translate(216.991,478.8) scale(1,1.04)" text-anchor="middle">400</text>
<text class="bl" transform="translate(248.755,478.8) scale(1,1.04)" text-anchor="middle">600</text>
<text class="bl" transform="translate(280.518,478.8) scale(1,1.04)" text-anchor="middle">800</text>
<text class="bl" transform="translate(312.282,478.8) scale(1,1.04)" text-anchor="middle">1000</text>
<text class="bl" transform="translate(344.045,478.8) scale(1,1.04)" text-anchor="middle">1200</text>
<text class="bl" transform="translate(375.809,478.8) scale(1,1.04)" text-anchor="middle">1400</text>
<text class="bl" transform="translate(407.573,478.8) scale(1,1.04)" text-anchor="middle">1600</text>
<text class="bl" transform="translate(439.336,478.8) scale(1,1.04)" text-anchor="middle">1800</text>
</svg></body></html>
